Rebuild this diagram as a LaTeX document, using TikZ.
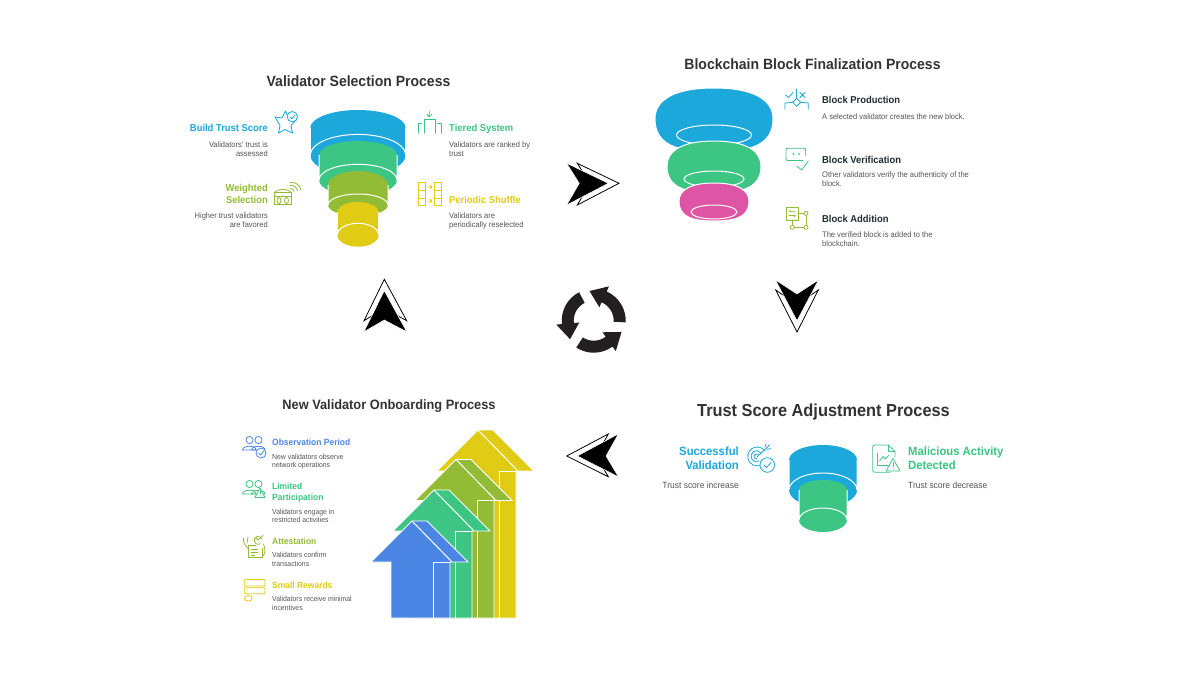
\documentclass[tikz,border=0pt]{standalone}
\usepackage{fontspec}
\setmainfont[FakeStretch=0.94]{Liberation Sans}
\definecolor{cblue}{HTML}{1CA8DA}
\definecolor{cgreen}{HTML}{3CC583}
\definecolor{colive}{HTML}{93BC36}
\definecolor{cyel}{HTML}{E0CB15}
\definecolor{cpink}{HTML}{DF55A5}
\definecolor{cbluetwo}{HTML}{4C86E4}
\definecolor{ctitle}{HTML}{333333}
\definecolor{cdesc}{HTML}{555555}
\definecolor{cdark}{HTML}{1F2D33}
\definecolor{ccyc}{HTML}{231F20}
\tikzset{
 ttl/.style={font=\fontsize{#1}{#1}\selectfont\bfseries,text=ctitle,inner sep=0,anchor=center},
 hd/.style 2 args={font=\fontsize{#1}{\the\dimexpr#1pt+2.2pt\relax}\selectfont\bfseries,text=#2,inner sep=0},
 hdl/.style 2 args={hd={#1}{#2},align=left,anchor=north west},
 hdr/.style 2 args={hd={#1}{#2},align=right,anchor=north east},
 dsc/.style={font=\fontsize{#1}{\the\dimexpr#1pt+1pt\relax}\selectfont,text=cdesc,inner sep=0},
 dscl/.style={dsc=#1,align=left,anchor=north west},
 dscr/.style={dsc=#1,align=right,anchor=north east},
 ic/.style={draw=#1,line width=.8pt,line cap=round,line join=round,fill=none},
 icw/.style={draw=#1,line width=.8pt,line join=round,fill=white},
 edge/.style={draw=white,line width=1pt},
 wedge/.style={fill=black,draw=white,line width=.5pt},
 oedge/.style={fill=white,draw=black,line width=.8pt,line join=miter},
}
% cylinder: cx rx topcy topry botcy botry colour
\newcommand{\cylseg}[7]{%
 \fill[#7] ({#1-#2},#3) arc[start angle=180,end angle=0,x radius=#2pt,y radius=#4pt] -- ({#1+#2},#5)
   arc[start angle=0,end angle=-180,x radius=#2pt,y radius=#6pt] -- cycle;
 \draw[edge] ({#1-#2},#3) -- ({#1-#2},#5) arc[start angle=180,end angle=0,x radius=#2pt,y radius=#6pt] -- ({#1+#2},#3);
}
\newcommand{\blobseg}[5]{% cx halfwidth top bottom colour
 \path[fill=#5,draw=white,line width=1pt] (#1,#3)
  .. controls ({#1+0.7*#2},#3) and ({#1+#2},{#3+0.2*(#4-#3)}) .. ({#1+#2},{#3+0.48*(#4-#3)})
  .. controls ({#1+#2},{#3+0.86*(#4-#3)}) and ({#1+0.68*#2},#4) .. (#1,#4)
  .. controls ({#1-0.68*#2},#4) and ({#1-#2},{#3+0.86*(#4-#3)}) .. ({#1-#2},{#3+0.48*(#4-#3)})
  .. controls ({#1-#2},{#3+0.2*(#4-#3)}) and ({#1-0.7*#2},#3) .. (#1,#3) -- cycle;
}
\newcommand{\housearrow}[3]{% apex x, apex y, colour
 \path[fill=#3,draw=white,line width=.9pt,line join=miter] ({#1-41},{#2+41}) -- (#1,#2) -- ({#1+15},#2) -- ({#1+56},{#2+41})
   -- ({#1+38},{#2+41}) -- ({#1+38},618) -- ({#1-21},618) -- ({#1-21},{#2+41}) -- cycle;
 \draw[edge] (#1,#2) -- ({#1+40},{#2+41});
 \draw[edge] ({#1+21},618) -- ({#1+21},{#2+41}) -- ({#1+38},{#2+41});
}
\newcommand{\person}[3]{% x y colour
 \draw[ic=#3] (#1,#2) circle[radius=3.6pt];
 \draw[ic=#3] ({#1-7},{#2+10}) .. controls ({#1-6.5},{#2+5}) and ({#1+6.5},{#2+5}) .. ({#1+6.5},{#2+10}) -- cycle;
}
\newcommand{\cyclearm}[1]{%
 \fill[ccyc,rotate around={#1:(cyc)}] ([shift={(-3:32pt)}]cyc) arc[start angle=-3,end angle=66,radius=32pt]
   -- ([shift={(66:37.6pt)}]cyc) -- ([shift={(98:30pt)}]cyc) -- ([shift={(67:14.5pt)}]cyc) -- ([shift={(67:20pt)}]cyc)
   arc[start angle=67,end angle=-3,radius=20pt] -- cycle;
}
\begin{document}
\begin{tikzpicture}[x=1pt,y=-1pt]
\useasboundingbox (0,0) rectangle (1200,675);
\fill[white] (0,0) rectangle (1200,675);

% ---------- titles
\node[ttl=14.9] (t1) at (358.5,81) {Validator Selection Process};
\node[ttl=14.9] (t2) at (812.5,64) {Blockchain Block Finalization Process};
\node[ttl=13.6] (t3) at (389,406.5) {New Validator Onboarding Process};
\node[ttl=17.4] (t4) at (823.5,411.5) {Trust Score Adjustment Process};

% ---------- validator funnel
\cylseg{358}{47.7}{128}{18}{155}{20.6}{cblue}
\cylseg{358}{39}{155}{14}{180}{15.7}{cgreen}
\cylseg{358}{30}{185}{14}{205}{11}{colive}
\cylseg{358}{20.7}{212}{10}{235}{11.7}{cyel}

% ---------- validator text
\node[hdr={10}{cblue}] (a1) at (268,124) {Build Trust Score};
\node[dscr=8] (a2) at (268,141.5) {Validators' trust is\\assessed};
\node[hdr={10}{colive}] (a3) at (268,184) {Weighted\\Selection};
\node[dscr=8] (a4) at (268,212.5) {Higher trust validators\\are favored};
\node[hdl={10}{cgreen}] (a5) at (449,124) {Tiered System};
\node[dscl=8] (a6) at (449,141.5) {Validators are ranked by\\trust};
\node[hdl={10}{cyel}] (a7) at (449,196) {Periodic Shuffle};
\node[dscl=8] (a8) at (449,212.5) {Validators are\\periodically reselected};

% star icon
\draw[ic=cblue] (275,117) -- (282,118) -- (285.5,111) -- (288.5,118.5) -- (296,120) -- (291,125.5) -- (292.5,133) -- (285,129.5) -- (278.5,133) -- (280,125.5) -- cycle;
\draw[icw=cblue] (292.3,116.7) circle[radius=5.2pt];
\draw[ic=cblue] (289.8,116.8) -- (291.8,118.8) -- (295,114.8);
% weighted icon
\draw[ic=colive] (274.5,204.5) rectangle (291,192);
\draw[ic=colive] (274.5,196) -- (291,196);
\draw[ic=colive] (274.5,192.5) .. controls (277,188.5) and (288.5,188.5) .. (291,192.5);
\draw[ic=colive] (279,200.5) ellipse[x radius=2pt,y radius=3pt];
\draw[ic=colive] (286.5,200.5) ellipse[x radius=2pt,y radius=3pt];
\draw[ic=colive] (290,188.5) arc[start angle=100,end angle=10,radius=3.5pt];
\draw[ic=colive] (290,185.5) arc[start angle=100,end angle=10,radius=6.5pt];
\draw[ic=colive] (290,182.5) arc[start angle=100,end angle=10,radius=9.5pt];
% tiered icon
\draw[ic=cgreen] (429.3,111) -- (429.3,116.5) (427,114.5) -- (429.3,116.8) -- (431.6,114.5);
\draw[ic=cgreen] (424,133.3) -- (424,119) -- (435,119) -- (435,133.3);
\draw[ic=cgreen] (418.3,133.3) -- (418.3,123.3) -- (421.5,123.3);
\draw[ic=cgreen] (441,133.3) -- (441,123.3) -- (437.5,123.3);
% shuffle icon
\draw[ic=cyel] (418.3,182.7) rectangle (425.7,205.7) (418.3,190.4) -- (425.7,190.4) (418.3,198) -- (425.7,198);
\draw[ic=cyel] (434,182.7) rectangle (441,205.7) (434,190.4) -- (441,190.4) (434,198) -- (441,198);
\draw[ic=cyel] (427.5,187) -- (432,187) (430.3,185.3) -- (432,187) -- (430.3,188.7);
\draw[ic=cyel] (427.5,201) -- (432,201) (430.3,199.3) -- (432,201) -- (430.3,202.7);

% ---------- block funnel
\blobseg{714}{59}{88}{152}{cblue}
\draw[edge] (714,135) ellipse[x radius=37.5pt,y radius=10pt];
\blobseg{714}{47}{141}{193}{cgreen}
\draw[edge] (714,179) ellipse[x radius=30pt,y radius=8pt];
\blobseg{714}{35}{183}{221}{cpink}
\draw[edge] (714,212) ellipse[x radius=23pt,y radius=7pt];

\node[hdl={10}{cdark}] (b1) at (822,96) {Block Production};
\node[dscl=8] (b2) at (822,113.5) {A selected validator creates the new block.};
\node[hdl={10}{cdark}] (b3) at (822,156) {Block Verification};
\node[dscl=8] (b4) at (822,171.5) {Other validators verify the authenticity of the\\block.};
\node[hdl={10}{cdark}] (b5) at (822,215) {Block Addition};
\node[dscl=8] (b6) at (822,231) {The verified block is added to the\\blockchain.};

% production icon
\draw[ic=cblue] (796.7,89.3) -- (796.7,98.3);
\draw[ic=cblue] (796.7,98.3) -- (800.7,102.3) -- (796.7,106.3) -- (792.7,102.3) -- cycle;
\draw[ic=cblue] (785.5,95) -- (788.5,97.5) -- (793,92.5);
\draw[ic=cblue] (800,92.5) -- (805,97.5) (805,92.5) -- (800,97.5);
\draw[ic=cblue] (785,109.3) -- (785,103) -- (792.7,102.3) (808.3,109.3) -- (808.3,103) -- (800.7,102.3);
% verification icon
\draw[ic=cgreen] (803,160.5) -- (788,160.5) .. controls (786,160.5) and (786,160) .. (786,158) -- (786,150.5) .. controls (786,148.5) and (786.5,148.3) .. (788,148.3) -- (803.5,148.3) .. controls (805.5,148.3) and (805.7,149) .. (805.7,150.5) -- (805.7,156);
\fill[cgreen] (793.3,154) circle[radius=1pt] (799,154) circle[radius=1pt];
\draw[ic=cgreen] (796.7,166) -- (801.7,170) -- (808.3,161);
% addition icon
\draw[ic=colive] (786,207.3) rectangle (798.3,220);
\draw[ic=colive] (798.3,213.3) -- (804,213.3) (806,215.3) -- (806,225.3) (804,227.3) -- (794.3,227.3) (792.3,225.3) -- (792.3,220);
\draw[ic=colive] (806,213.3) circle[radius=2pt] (806,227.3) circle[radius=2pt] (792.3,227.3) circle[radius=2pt];
\draw[ic=colive,line width=.6pt] (789,211.7) -- (795.5,211.7) (789,211.7) -- (790.5,210.4) (789,215.5) -- (795.5,215.5) (795.5,215.5) -- (794,216.8);

% ---------- house arrows
\housearrow{478}{430}{cyel}
\housearrow{456}{459.5}{colive}
\housearrow{434}{490}{cgreen}
\housearrow{412}{521}{cbluetwo}

\node[hdl={9}{cbluetwo}] (c1) at (272,439) {Observation Period};
\node[dscl=7.3] (c2) at (272,454) {New validators observe\\network operations};
\node[hdl={9}{cgreen}] (c3) at (272,483) {Limited\\Participation};
\node[dscl=7.3] (c4) at (272,509) {Validators engage in\\restricted activities};
\node[hdl={9}{colive}] (c5) at (272,538) {Attestation};
\node[dscl=7.3] (c6) at (272,552.5) {Validators confirm\\transactions};
\node[hdl={9}{cyel}] (c7) at (272,582) {Small Rewards};
\node[dscl=7.3] (c8) at (272,596.5) {Validators receive minimal\\incentives};

% people icons
\person{249.5}{440}{cbluetwo}
\person{258.5}{440}{cbluetwo}
\draw[icw=cbluetwo] (261,453) circle[radius=5pt];
\draw[ic=cbluetwo] (258.6,453) -- (260.6,455) -- (263.6,451);
\person{249.5}{484}{cgreen}
\person{258.5}{484}{cgreen}
\draw[icw=cgreen] (260,488) -- (265,497.5) -- (255,497.5) -- cycle;
\draw[ic=cgreen,line width=.6pt] (260,491) -- (260,494) (260,495.8) -- (260,496);
% attestation icon
\draw[ic=colive] (248.5,545) -- (248.5,557) -- (262,557) -- (262,548);
\draw[ic=colive] (248.5,545) -- (256,545);
\draw[ic=colive] (251,549) -- (258,549) (251,552) -- (258,552) (251,555) -- (255,555);
\draw[ic=colive] (262,539) arc[start angle=20,end angle=300,radius=4pt];
\draw[ic=colive] (255.5,537.5) -- (258,540) -- (263,535.5);
\draw[ic=colive] (243.5,538) .. controls (243,543) and (245,545) .. (248.5,549);
\draw[ic=colive] (248,537) -- (247,543);
\draw[ic=colive] (263,556) .. controls (266,553) and (265,548) .. (263.5,544);
% reward icon
\draw[ic=cyel,rounded corners=1pt] (244.3,579.5) rectangle (265,586);
\draw[ic=cyel,rounded corners=1pt] (244.3,587.7) rectangle (265,593.7);
\draw[ic=cyel] (248.3,598.3) ellipse[x radius=4pt,y radius=2.8pt];
\fill[cyel] (247,582.7) circle[radius=.7pt] (247,590.7) circle[radius=.7pt];

% ---------- trust
\cylseg{823}{34}{460}{15}{490}{17}{cblue}
\cylseg{823}{24}{490}{10}{520}{12}{cgreen}

\node[hdr={12}{cblue}] (d1) at (739,446.3) {Successful\\Validation};
\node[dscr=9] (d2) at (739,482) {Trust score increase};
\node[hdl={12}{cgreen}] (d3) at (908,446.3) {Malicious Activity\\Detected};
\node[dscl=9] (d4) at (908,482) {Trust score decrease};

% target icon
\draw[ic=cblue] (765,451) arc[start angle=35,end angle=315,radius=9.5pt];
\draw[ic=cblue] (761,453) arc[start angle=35,end angle=300,radius=5.5pt];
\draw[ic=cblue] (758.5,455) arc[start angle=35,end angle=280,radius=2.5pt];
\draw[ic=cblue] (757,457) -- (767,447.5) (765,447) -- (766,444) (767.5,449.5) -- (770.5,448.5) (767,447.5) -- (769.5,445);
\draw[icw=cblue] (767.3,465) circle[radius=7.3pt];
\draw[ic=cblue] (764,465) -- (766.5,467.5) -- (771,462.5);
% malicious icon
\draw[ic=cgreen] (890,472.3) -- (875,472.3) .. controls (873.5,472.3) and (872.7,471.5) .. (872.7,470) -- (872.7,447) .. controls (872.7,445.8) and (873.5,445) .. (875,445) -- (888,445) -- (895,451.5) -- (895,457);
\draw[ic=cgreen] (888,445) -- (888,451.5) -- (895,451.5);
\draw[ic=cgreen] (877.7,453.5) -- (877.7,465) -- (888,465);
\draw[ic=cgreen] (879.5,461) -- (883,456.5) -- (885.5,459) -- (889,455);
\draw[icw=cgreen] (893,458.5) -- (900,471) -- (886,471) -- cycle;
\draw[ic=cgreen] (893,462.5) -- (893,466.5) (893,468.7) -- (893,468.9);

% ---------- big arrows
\path[oedge] (577.3,163.3) -- (619,183.3) -- (577.3,205) -- (590,183.3) -- cycle;
\path[wedge] (566.7,163.3) -- (608.3,183.3) -- (566.7,205) -- (579.3,183.3) -- cycle;
\path[oedge] (775.7,290) -- (797,332) -- (818.3,290) -- (797,304.5) -- cycle;
\path[wedge] (775.5,280) -- (797,320.7) -- (818.5,280) -- (797,294) -- cycle;
\path[oedge] (384.3,279.3) -- (364,320.7) -- (384.3,308.3) -- (406.7,320.7) -- cycle;
\path[wedge] (384.3,290.7) -- (364,331.7) -- (384.3,320) -- (406.7,331.7) -- cycle;
\path[oedge] (566.7,456) -- (608.3,434) -- (596,456) -- (608.3,476.7) -- cycle;
\path[wedge] (577.3,456) -- (618.3,434) -- (606,456) -- (618.3,476.7) -- cycle;

% ---------- cycle
\coordinate (cyc) at (593.7,320.7);
\cyclearm{0}
\cyclearm{120}
\cyclearm{240}
\end{tikzpicture}
\end{document}
